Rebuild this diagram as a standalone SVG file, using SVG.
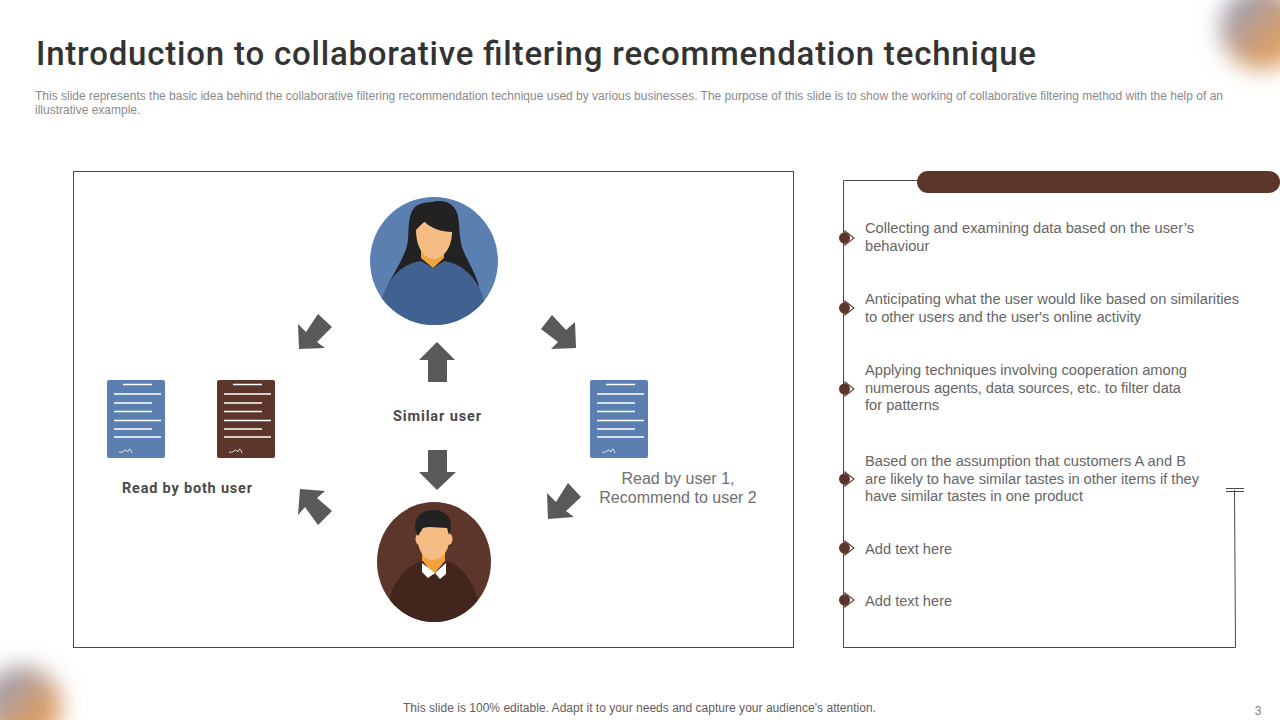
<svg xmlns="http://www.w3.org/2000/svg" width="1280" height="720" viewBox="0 0 1280 720">
<style>
text{font-family:"Liberation Sans",Arial,sans-serif}
.title{font-family:Roboto,"Liberation Sans",sans-serif;font-weight:500;font-size:33px;fill:#333}
.sub{font-size:12px;fill:#8a8a8a}
.foot{font-size:12px;fill:#606060}
.lab{font-family:Roboto,"Liberation Sans",sans-serif;font-weight:700;font-size:14.5px;fill:#4a4a4a}
.cap{font-size:16px;fill:#707070;text-anchor:middle}
.item{font-size:14.67px;fill:#666}
.arrow{fill:#595959}
.frame{fill:none;stroke:#4a4a4a;stroke-width:1}
.ln{stroke:#fff;stroke-width:1.4}
.sig{fill:none;stroke:#fff;stroke-width:.8}
.blue{fill:#5b7fb1}.brown{fill:#5c352b}
.dot{fill:#5c352b}
.chev{fill:#fff;stroke:#6b4a42;stroke-width:1.2}
</style>
<defs>
<linearGradient id="gTR" x1="0" y1="0" x2="1" y2="1"><stop offset="0.05" stop-color="#8c9cc4"/><stop offset="0.7" stop-color="#dd9f63"/></linearGradient>
<linearGradient id="gBL" x1="0" y1="0" x2="1" y2="1"><stop offset="0.05" stop-color="#8c9cc4"/><stop offset="0.7" stop-color="#dd9f63"/></linearGradient>
<filter id="blur" x="-60%" y="-60%" width="220%" height="220%"><feGaussianBlur stdDeviation="11"/></filter>
<clipPath id="c1"><circle cx="434" cy="261" r="64"/></clipPath>
<clipPath id="c2"><ellipse cx="434" cy="562" rx="57" ry="60"/></clipPath>
<g id="docLines">
<path class="ln" d="M16 4.500H45M7 14H54M7 40.500H54M7 57H54"/>
<path class="ln" d="M7 23H45M7 31.500H45M7 49H45"/>
<path class="sig" d="M12 72q3 1 5-1t3 0 2-1 3 3"/>
</g>
</defs>
<circle cx="1262" cy="28" r="42" fill="url(#gTR)" filter="url(#blur)"/>
<circle cx="22" cy="706" r="40" fill="url(#gBL)" filter="url(#blur)"/>

<text class="title" x="36" y="65" textLength="1000" lengthAdjust="spacing">Introduction to collaborative filtering recommendation technique</text>
<text class="sub" x="35" y="100" textLength="1188" lengthAdjust="spacing">This slide represents the basic idea behind the collaborative filtering recommendation technique used by various businesses. The purpose of this slide is to show the working of collaborative filtering method with the help of an</text>
<text class="sub" x="35" y="114">illustrative example.</text>

<rect class="frame" x="73.500" y="171.500" width="720" height="476"/>

<g id="connectors">
<polygon class="arrow" points="437,342 455,360 447,360 447,382 428,382 428,360 419,360"/>
<polygon class="arrow" points="428,450 447,450 447,472 456,472 437,490 419,472 428,472"/>
<polygon class="arrow" points="552,315 566,330 575,322 576,348 551,349 558,342 541,329"/>
<polygon class="arrow" points="568,483 581,497 566,511 574,517 548,519 547,493 556,502"/>
<polygon class="arrow" points="318,314 332,327 317,342 325,348 299,349 298,324 306,332"/>
<polygon class="arrow" points="300,489 325,491 317,498 332,511 318,525 305,507 298,515"/>
</g>

<g id="user1">
<circle cx="434" cy="261" r="64" fill="#5b7fb1"/>
<g clip-path="url(#c1)">
<path fill="#222" d="M388 285C398 265 406 255 408 240C409 225 408 213 416 206C424 201 430 203 437 201C448 200 456 206 458 216C460 228 459 240 463 250C468 262 475 272 479 286L470 295H395Z"/>
<path fill="#f0a23c" d="M421 250H444V258L433 268L421 258Z"/>
<path fill="#f5bd84" d="M416 230C420 226 423 222 425 222C430 228 442 232 452 232C452 245 446 258 433 259C423 258 416 246 416 230Z"/>
<path fill="#416190" d="M383 297C388 280 400 264 421 261L433 268L444 261C465 264 478 280 484 300V340H380V297Z"/>
</g>
</g>

<g id="user2">
<ellipse cx="434" cy="562" rx="57" ry="60" fill="#5c352b"/>
<g clip-path="url(#c2)">
<path fill="#f0a23c" d="M422 548H445V567L433 578L422 567Z"/>
<path fill="#42261e" d="M390 597C395 578 410 563 423 561L433 575L445 561C458 563 472 578 477 597V630H390Z"/>
<path fill="#fff" d="M422 563L435 573L446 563L446 574L440 579L435 573L428 578L422 572Z"/>
<ellipse cx="419.500" cy="539" rx="4" ry="6" fill="#f5bd84"/>
<ellipse cx="448.500" cy="539" rx="4" ry="6" fill="#f5bd84"/>
<path fill="#f5bd84" d="M418 527H449V540C449 552 441 560 433 560C425 560 418 552 418 540Z"/>
<path fill="#222" d="M415 526C415 516 423 510 433 510C444 510 451 516 451 526C451 530 450 533 449 535L447 528C438 528 430 526 423 528L418 536C416 533 415 530 415 526Z"/>
</g>
</g>

<g id="docBothBlue">
<rect class="blue" x="107" y="380" width="58" height="78" rx="2"/>
<use href="#docLines" x="107" y="380"/>
</g>
<g id="docBothBrown">
<rect class="brown" x="217" y="380" width="58" height="78" rx="2"/>
<use href="#docLines" x="217" y="380"/>
</g>
<g id="docRecommend">
<rect class="blue" x="590" y="380" width="58" height="78" rx="2"/>
<use href="#docLines" x="590" y="380"/>
</g>

<g id="labelSimilar"><text class="lab" x="393" y="421" textLength="88" lengthAdjust="spacing">Similar user</text></g>
<g id="labelBoth"><text class="lab" x="122" y="493" textLength="130" lengthAdjust="spacing">Read by both user</text></g>
<g id="labelRecommend">
<text class="cap" x="678" y="484">Read by user 1,</text>
<text class="cap" x="678" y="503">Recommend to user 2</text>
</g>

<g id="panel">
<path class="frame" d="M917 180.500H843.500V647.500H1235.500L1234.500 490"/>
<path class="frame" d="M1226 488.500H1244M1226 491.500H1244"/>
<path class="brown" d="M928 171H1269A11 11 0 0 1 1280 182A11 11 0 0 1 1269 193H928A11 11 0 0 1 928 171Z"/>
</g>

<g id="item1"><polygon class="chev" points="845,231 854,238 845,245"/><circle class="dot" cx="844.500" cy="238" r="5.500"/>
<text class="item" x="865" y="233" textLength="329" lengthAdjust="spacing">Collecting and examining data based on the user’s</text>
<text class="item" x="865" y="251">behaviour</text></g>
<g id="item2"><polygon class="chev" points="845,301 854,308 845,315"/><circle class="dot" cx="844.500" cy="308" r="5.500"/>
<text class="item" x="865" y="304" textLength="374" lengthAdjust="spacing">Anticipating what the user would like based on similarities</text>
<text class="item" x="865" y="322" textLength="276" lengthAdjust="spacing">to other users and the user's online activity</text></g>
<g id="item3"><polygon class="chev" points="845,382 854,389 845,396"/><circle class="dot" cx="844.500" cy="389" r="5.500"/>
<text class="item" x="865" y="375" textLength="322" lengthAdjust="spacing">Applying techniques involving cooperation among</text>
<text class="item" x="865" y="393" textLength="316" lengthAdjust="spacing">numerous agents, data sources, etc. to filter data</text>
<text class="item" x="865" y="410">for patterns</text></g>
<g id="item4"><polygon class="chev" points="845,472 854,479 845,486"/><circle class="dot" cx="844.500" cy="479" r="5.500"/>
<text class="item" x="865" y="466" textLength="321" lengthAdjust="spacing">Based on the assumption that customers A and B</text>
<text class="item" x="865" y="484" textLength="334" lengthAdjust="spacing">are likely to have similar tastes in other items if they</text>
<text class="item" x="865" y="501" textLength="218" lengthAdjust="spacing">have similar tastes in one product</text></g>
<g id="item5"><polygon class="chev" points="845,541 854,548 845,555"/><circle class="dot" cx="844.500" cy="548" r="5.500"/>
<text class="item" x="865" y="554">Add text here</text></g>
<g id="item6"><polygon class="chev" points="845,593 854,600 845,607"/><circle class="dot" cx="844.500" cy="600" r="5.500"/>
<text class="item" x="865" y="606">Add text here</text></g>

<text class="foot" x="403" y="712" textLength="473" lengthAdjust="spacing">This slide is 100% editable. Adapt it to your needs and capture your audience's attention.</text>
<text x="1258" y="715" font-size="12" fill="#7f7f7f" text-anchor="middle">3</text>
</svg>
